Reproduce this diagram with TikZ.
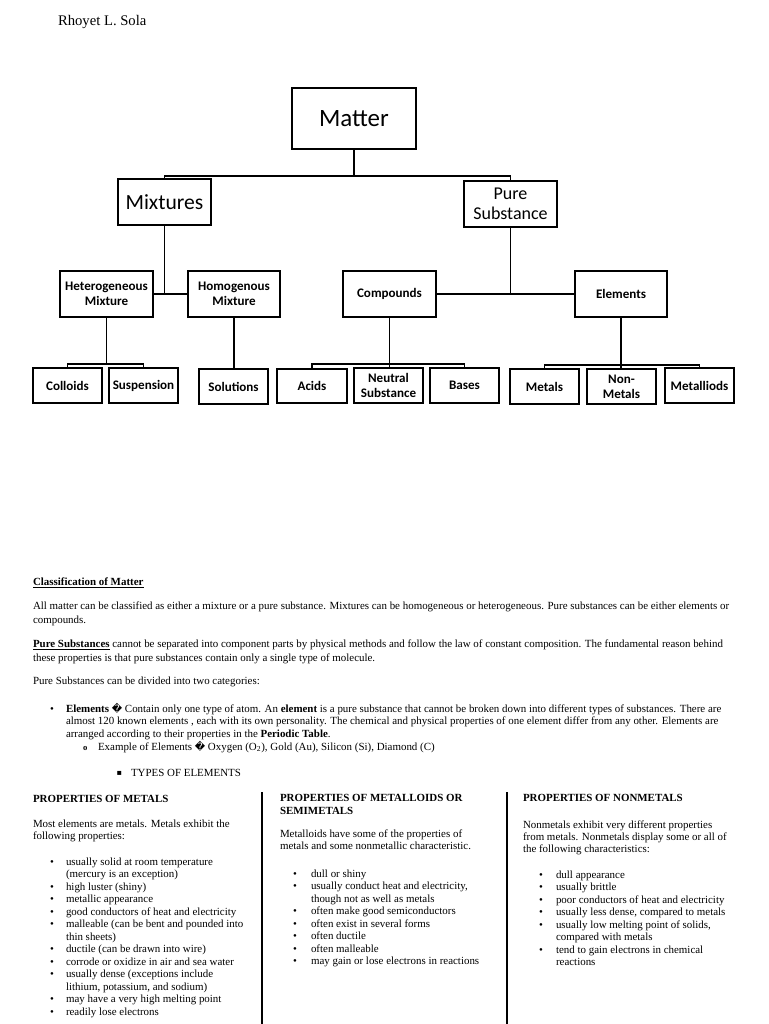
\documentclass[tikz,border=0pt]{standalone}
\usepackage{fontspec}
\setmainfont{Liberation Serif}
\newfontfamily\carlito{Carlito}
\newfontfamily\dejavu{DejaVu Sans}
\newcounter{tn}
\newcommand\tl[3]{\stepcounter{tn}\node[txt] (t\arabic{tn}) at (#1,#2) {#3};}
\newcommand\bl[4]{\stepcounter{tn}\node[txt] (b\arabic{tn}) at (#1,#4) {\textbullet};\node[txt] (t\arabic{tn}) at (#2,#4) {#3};}
\newcommand\repl{{\dejavu\fontsize{7.6}{9}\selectfont\symbol{"FFFD}}}
\tikzset{
  txt/.style={anchor=base west,inner sep=0pt,outer sep=0pt,font=\fontsize{8.2}{10}\selectfont},
  bx/.style={draw,line width=1.3pt,inner sep=0pt,align=center,font=\carlito\bfseries\fontsize{9.8}{11.5}\selectfont},
  wh/.style 2 args={minimum width={#1*0.75pt},minimum height={#2*0.75pt}},
  con/.style={line width=1.25pt},
  sep/.style={line width=0.9pt}}
\begin{document}
\begin{tikzpicture}[x=0.75pt,y=-0.75pt]
\useasboundingbox[fill=white] (0,0) rectangle (768,1024);

\node[txt,font=\fontsize{11}{13}\selectfont] (author) at (58,26) {Rhoyet L. Sola};

% boxes
\node[bx,wh={124}{61},font=\carlito\fontsize{18.7}{22}\selectfont] (matter) at (354,118.5) {Matter};
\node[bx,wh={93}{46},font=\carlito\fontsize{16.2}{19}\selectfont] (mixtures) at (164.5,202) {Mixtures};
\node[bx,wh={93}{46},font=\carlito\fontsize{13.5}{15}\selectfont] (pure) at (510.5,204) {Pure\\Substance};
\node[bx,wh={93}{46}] (hetero) at (106.5,294) {Heterogeneous\\Mixture};
\node[bx,wh={92}{46}] (homo) at (234,294) {Homogenous\\Mixture};
\node[bx,wh={93}{46}] (compounds) at (389.5,294) {Compounds};
\node[bx,wh={92}{46}] (elements) at (621,294) {Elements};
\node[bx,wh={69}{35}] (colloids) at (67.5,385.5) {Colloids};
\node[bx,wh={69}{35}] (suspension) at (143.5,385.5) {Suspension};
\node[bx,wh={69}{35}] (solutions) at (233.5,386.5) {Solutions};
\node[bx,wh={70}{34}] (acids) at (312,386) {Acids};
\node[bx,wh={69}{35}] (neutral) at (388.5,385.5) {Neutral\\Substance};
\node[bx,wh={69}{35}] (bases) at (464.5,385.5) {Bases};
\node[bx,wh={69}{35}] (metals) at (544.5,386.5) {Metals};
\node[bx,wh={69}{35}] (nonmetals) at (621.5,386.5) {Non-\\Metals};
\node[bx,wh={69}{35}] (metalliods) at (699.5,385.5) {Metalliods};

% connectors
\coordinate (j1) at (354,176);
\draw[con] (matter.south) -- (j1);
\draw[con] (mixtures.north) |- (j1);
\draw[con] (pure.north) |- (j1);
\draw[con] (hetero.east) -- (homo.west);
\draw[con] (mixtures.south) -- (mixtures.south |- hetero.east);
\draw[con] (compounds.east) -- (elements.west);
\draw[con] (pure.south) -- (pure.south |- compounds.east);
\coordinate (j2) at (106.5,364);
\draw[con] (hetero.south) -- (j2);
\draw[con] (colloids.north) |- (j2);
\draw[con] (suspension.north) |- (j2);
\draw[con] (homo.south) -- (homo.south |- solutions.north);
\coordinate (j3) at (389.5,364);
\draw[con] (compounds.south) -- (compounds.south |- neutral.north);
\draw[con] (acids.north) |- (j3);
\draw[con] (bases.north) |- (j3);
\coordinate (j4) at (621,365);
\draw[con] (elements.south) -- (elements.south |- nonmetals.north);
\draw[con] (metals.north) |- (j4);
\draw[con] (metalliods.north) |- (j4);

% paragraph text
\tl{33}{585}{\textbf{\underline{Classification of Matter}}}
\tl{33}{609}{All matter can be classified as either a mixture or a pure substance. Mixtures can be homogeneous or heterogeneous. Pure substances can be either elements or}
\tl{33}{623}{compounds.}
\tl{33}{647}{\textbf{\underline{Pure Substances}} cannot be separated into component parts by physical methods and follow the law of constant composition. The fundamental reason behind}
\tl{33}{661}{these properties is that pure substances contain only a single type of molecule.}
\tl{33}{684}{Pure Substances can be divided into two categories:}
\bl{50}{66}{\textbf{Elements} \repl{} Contain only one type of atom. An \textbf{element} is a pure substance that cannot be broken down into different types of substances. There are}{712}
\tl{66}{724}{almost 120 known elements , each with its own personality. The chemical and physical properties of one element differ from any other. Elements are}
\tl{66}{737}{arranged according to their properties in the \textbf{Periodic Table}.}
\node[txt,font=\fontsize{6.5}{8}\selectfont\bfseries] (ob) at (83,750) {o};
\tl{98}{750}{Example of Elements \repl{} Oxygen (O\textsubscript{2}), Gold (Au), Silicon (Si), Diamond (C)}
\node[txt,font=\dejavu\fontsize{6}{8}\selectfont] (sq) at (116.5,775) {▪};
\tl{131}{776}{TYPES OF ELEMENTS}

% column separators
\draw[sep] (262,792) -- (262,1024);
\draw[sep] (507,792) -- (507,1024);

% column 1
\tl{33}{802}{\textbf{PROPERTIES OF METALS}}
\tl{33}{827}{Most elements are metals. Metals exhibit the}
\tl{33}{839}{following properties:}
\bl{50}{66}{usually solid at room temperature}{865}
\tl{66}{877.5}{(mercury is an exception)}
\bl{50}{66}{high luster (shiny)}{890}
\bl{50}{66}{metallic appearance}{902.5}
\bl{50}{66}{good conductors of heat and electricity}{915}
\bl{50}{66}{malleable (can be bent and pounded into}{927.5}
\tl{66}{940}{thin sheets)}
\bl{50}{66}{ductile (can be drawn into wire)}{952.5}
\bl{50}{66}{corrode or oxidize in air and sea water}{965}
\bl{50}{66}{usually dense (exceptions include}{977.5}
\tl{66}{990}{lithium, potassium, and sodium)}
\bl{50}{66}{may have a very high melting point}{1002.5}
\bl{50}{66}{readily lose electrons}{1015}

% column 2
\tl{280}{801}{\textbf{PROPERTIES OF METALLOIDS OR}}
\tl{280}{814}{\textbf{SEMIMETALS}}
\tl{280}{837}{Metalloids have some of the properties of}
\tl{280}{849}{metals and some nonmetallic characteristic.}
\bl{293}{311}{dull or shiny}{877}
\bl{293}{311}{usually conduct heat and electricity,}{889.5}
\tl{311}{902}{though not as well as metals}
\bl{293}{311}{often make good semiconductors}{914.5}
\bl{293}{311}{often exist in several forms}{927}
\bl{293}{311}{often ductile}{939.5}
\bl{293}{311}{often malleable}{952}
\bl{293}{311}{may gain or lose electrons in reactions}{964.5}

% column 3
\tl{523}{801}{\textbf{PROPERTIES OF NONMETALS}}
\tl{523}{828}{Nonmetals exhibit very different properties}
\tl{523}{840}{from metals. Nonmetals display some or all of}
\tl{523}{852}{the following characteristics:}
\bl{539}{556}{dull appearance}{878}
\bl{539}{556}{usually brittle}{890.5}
\bl{539}{556}{poor conductors of heat and electricity}{903}
\bl{539}{556}{usually less dense, compared to metals}{915.5}
\bl{539}{556}{usually low melting point of solids,}{928}
\tl{556}{940.5}{compared with metals}
\bl{539}{556}{tend to gain electrons in chemical}{953}
\tl{556}{965.5}{reactions}
\end{tikzpicture}
\end{document}
